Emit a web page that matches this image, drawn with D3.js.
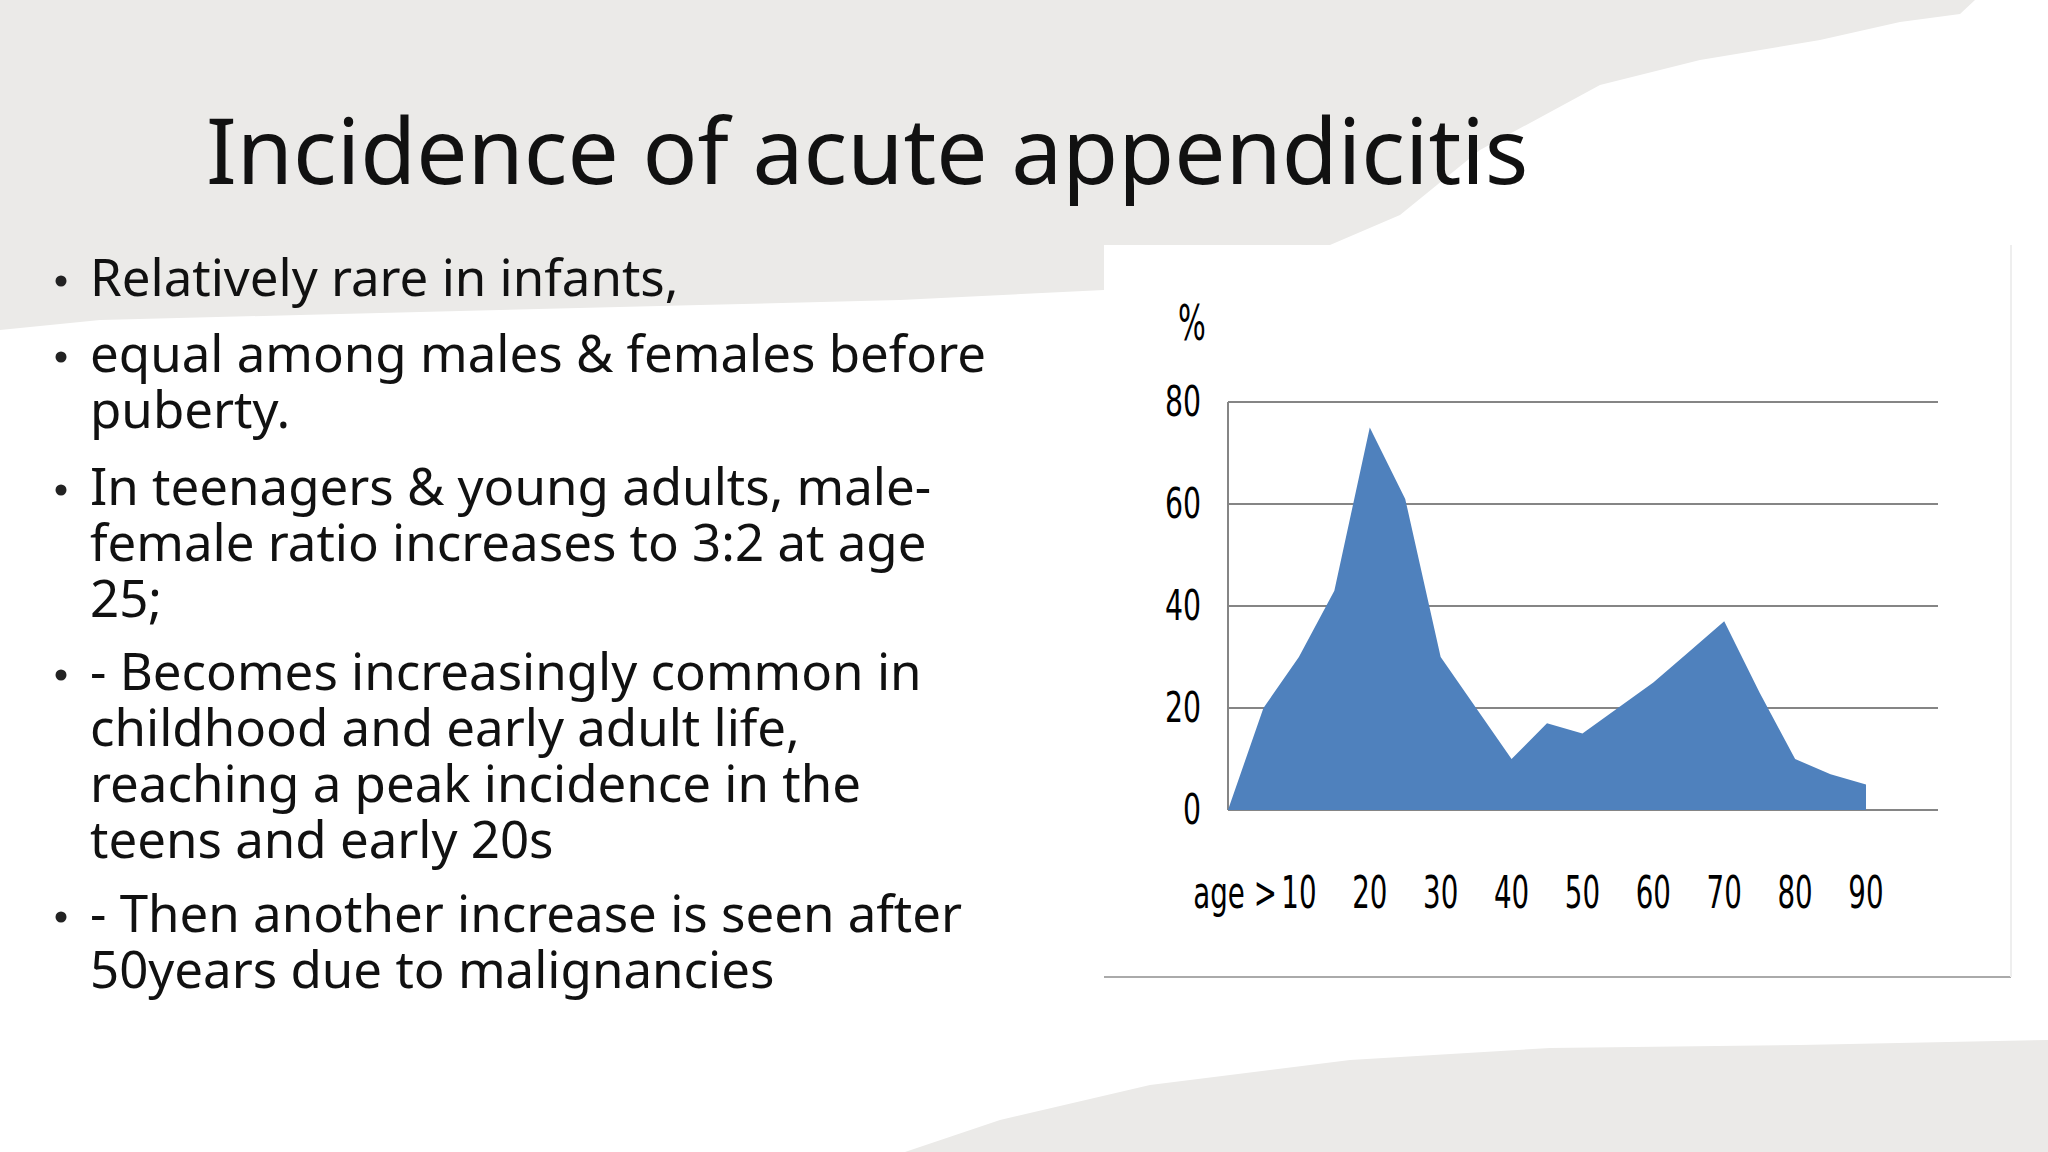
<!DOCTYPE html>
<html><head><meta charset="utf-8">
<script src="https://cdn.jsdelivr.net/npm/d3@7"></script>
<style>body{margin:0;background:#fff}svg{display:block}</style>
</head><body>
<svg id="c" width="2048" height="1152"></svg>
<script>
const ages = [0,5,10,15,20,25,30,35,40,45,50,55,60,65,70,75,80,85,90];
const incidence = [0,20,30,43,75,61,30,20,10,17,15,20,25,31,37,23,10,7,5];
const yTicks = [0,20,40,60,80];
const xTicks = [10,20,30,40,50,60,70,80,90];
const bullets = [
  ["Relatively rare in infants,"],
  ["equal among males & females before","puberty."],
  ["In teenagers & young adults, male-","female ratio increases to 3:2 at age","25;"],
  ["- Becomes increasingly common in","childhood and early adult life,","reaching a peak incidence in the","teens and early 20s"],
  ["- Then another increase is seen after","50years due to malignancies"]
];
const svg = d3.select("#c");
svg.append("path").attr("fill","#ebeae8")
  .attr("d","M0,0 L1975,0 L1960,14 L1900,22 L1820,40 L1700,60 L1600,85 L1480,150 L1400,215 L1330,245 L1104,245 L1104,290 L900,300 L700,305 L500,310 L300,315 L100,320 L0,330 Z");
svg.append("path").attr("fill","#ebeae8")
  .attr("d","M905,1152 L1000,1120 L1150,1085 L1350,1060 L1550,1048 L1800,1045 L2048,1040 L2048,1152 Z");
svg.append("text").attr("x",206).attr("y",184).attr("font-family","Noto Sans")
  .attr("font-size",91).attr("fill","#111").text("Incidence of acute appendicitis");
const lh = 56;
const starts = [296,372,505,690,932];
bullets.forEach((b,i)=>{
  svg.append("circle").attr("cx",61).attr("cy",starts[i]-15).attr("r",5.5).attr("fill","#222");
  b.forEach((l,j)=>svg.append("text").attr("x",90).attr("y",starts[i]+j*lh)
    .attr("font-family","Noto Sans").attr("font-size",51).attr("fill","#111").text(l));
});
svg.append("rect").attr("x",1104).attr("y",245).attr("width",907).attr("height",732).attr("fill","#fff");
svg.append("line").attr("x1",1104).attr("x2",2011).attr("y1",977).attr("y2",977).attr("stroke","#aaa").attr("stroke-width",2);
svg.append("line").attr("x1",2011).attr("x2",2011).attr("y1",245).attr("y2",977).attr("stroke","#eee").attr("stroke-width",2);
const x = d3.scaleLinear().domain([0,90]).range([1228,1866]);
const y = d3.scaleLinear().domain([0,80]).range([810,402]);
const grid = svg.append("g");
yTicks.forEach(t=>grid.append("line").attr("x1",1228).attr("x2",1938).attr("y1",y(t)).attr("y2",y(t)).attr("stroke","#858585").attr("stroke-width",2));
grid.append("line").attr("x1",1228).attr("x2",1228).attr("y1",y(80)).attr("y2",y(0)).attr("stroke","#858585").attr("stroke-width",2);
svg.append("path").datum(ages.map((a,i)=>[a,incidence[i]]))
  .attr("fill","#4f81bd")
  .attr("d",d3.area().x(d=>x(d[0])).y0(y(0)).y1(d=>y(d[1])));
const lf = "'Liberation Sans Narrow','DejaVu Sans Condensed',sans-serif";
yTicks.forEach(t=>svg.append("text").attr("x",1201).attr("y",y(t)+14).attr("text-anchor","end")
  .attr("font-family",lf).attr("font-size",42).attr("transform",`translate(1201,${y(t)}) scale(0.75,1) translate(-1201,${-y(t)})`).text(t));
svg.append("text").attr("x",1178).attr("y",340).attr("font-family",lf).attr("font-size",50)
  .attr("transform","translate(1178,340) scale(0.65,1) translate(-1178,-340)").text("%");
xTicks.forEach(t=>svg.append("text").attr("x",x(t)).attr("y",908).attr("text-anchor","middle")
  .attr("font-family",lf).attr("font-size",44).attr("transform",`translate(${x(t)},908) scale(0.7,1) translate(${-x(t)},-908)`).text(t));
const ax = x(10)-22;
svg.append("text").attr("x",ax).attr("y",908).attr("text-anchor","end").attr("font-family",lf).attr("font-size",44)
  .attr("transform",`translate(${ax},908) scale(0.7,1) translate(${-ax},-908)`).text("age >");
</script>
</body></html>
